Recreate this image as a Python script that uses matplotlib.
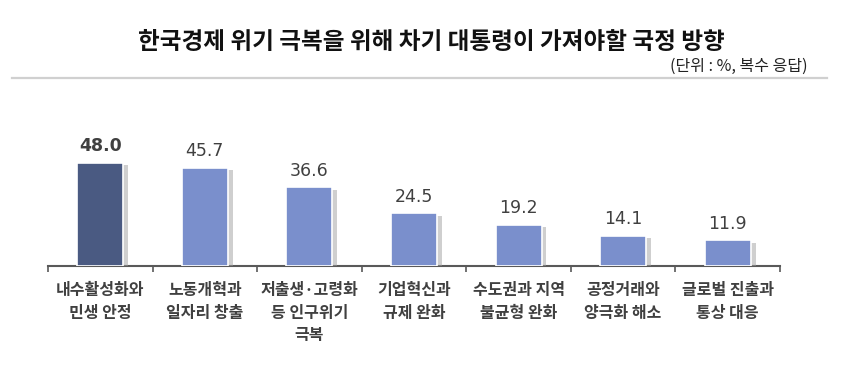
import matplotlib
matplotlib.use("Agg")
import matplotlib.pyplot as plt
import matplotlib.patheffects as pe
from matplotlib.lines import Line2D

plt.rcParams['font.family'] = ['Noto Sans CJK KR', 'DejaVu Sans']

categories = ["내수활성화와\n민생 안정", "노동개혁과\n일자리 창출", "저출생·고령화\n등 인구위기\n극복",
              "기업혁신과\n규제 완화", "수도권과 지역\n불균형 완화", "공정거래와\n양극화 해소", "글로벌 진출과\n통상 대응"]
values = [48.0, 45.7, 36.6, 24.5, 19.2, 14.1, 11.9]
value_labels = ["48.0", "45.7", "36.6", "24.5", "19.2", "14.1", "11.9"]
title = "한국경제 위기 극복을 위해 차기 대통령이 가져야할 국정 방향"
unit = "(단위 : %, 복수 응답)"

W, H = 860, 367
fig = plt.figure(figsize=(W / 100, H / 100), dpi=100)
fig.patch.set_facecolor('white')

ax_left, ax_right = 48, 780
ax_bottom, ymax = 266, 60.0
px_per_unit = 2.146
ax_h = ymax * px_per_unit
ax = fig.add_axes([ax_left / W, 1 - ax_bottom / H, (ax_right - ax_left) / W, ax_h / H])

colors = ['#4a5a82'] + ['#7a8fcc'] * (len(values) - 1)
x = list(range(len(values)))
bars = ax.bar(x, values, width=0.44, color=colors, edgecolor='white', linewidth=1.2, zorder=3)
for b in bars:
    b.set_path_effects([pe.SimplePatchShadow(offset=(3.5, -1.5), shadow_rgbFace='#a0a0a0', alpha=0.5),
                        pe.Normal()])

for i, (v, lab) in enumerate(zip(values, value_labels)):
    ax.text(i, v + 3.5, lab, ha='center', va='bottom', fontsize=12.5,
            color='#404040', fontweight='bold' if i == 0 else 'normal',
            family=['DejaVu Sans'])

ax.set_xlim(-0.5, len(values) - 0.5)
ax.set_ylim(0, ymax)
for s in ['top', 'right', 'left']:
    ax.spines[s].set_visible(False)
ax.spines['bottom'].set_color('#595959')
ax.spines['bottom'].set_linewidth(1.5)
ax.set_yticks([])
ax.set_xticks([i - 0.5 for i in range(len(values) + 1)])
ax.set_xticklabels([])
ax.tick_params(axis='x', direction='out', length=4, width=1.2, color='#595959')

for i, c in enumerate(categories):
    ax.text(i, -7.6, c, ha='center', va='top', fontsize=11.5, color='#404040',
            fontweight='bold', linespacing=1.5)

fig.text(431 / W, 1 - 42 / H, title, ha='center', va='center', fontsize=17,
         fontweight='bold', color='#111111')
fig.text(808 / W, 1 - 66 / H, unit, ha='right', va='center', fontsize=11.5, color='#222222')
fig.add_artist(Line2D([12 / W, 827 / W], [1 - 78 / H, 1 - 78 / H], color='#d0d0d0', lw=1.6))

fig.savefig('out.png', dpi=100, facecolor='white')
